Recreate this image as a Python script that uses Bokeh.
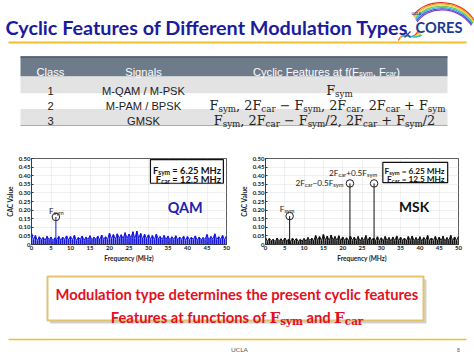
import os
import re
import glob
from bokeh.plotting import figure
from bokeh.layouts import column, row
from bokeh.models import Range1d, FixedTicker
from bokeh.core.properties import value
from bokeh.embed import file_html
from bokeh.resources import INLINE

try:
    from PIL import ImageFont
except Exception:
    ImageFont = None

# ---------------------------------------------------------------- data
TITLE = "Cyclic Features of Different Modulation Types"
LOGO_TEXT = "CORES"
LOGO_SMALL = "UCLA"
TABLE_HEADER = ["Class", "Signals", "Cyclic Features at f(F_{sym}, F_{car})"]
CLASS_IDS = ["1", "2", "3"]
SIGNALS = ["M-QAM / M-PSK", "M-PAM / BPSK", "GMSK"]
FEATURES = [
    "F_{sym}",
    "F_{sym}, 2F_{car} \u2212 F_{sym}, 2F_{car}, 2F_{car} + F_{sym}",
    "F_{sym}, 2F_{car} \u2212 F_{sym}/2, 2F_{car} + F_{sym}/2",
]

X_TICKS = [0, 5, 10, 15, 20, 25, 30, 35, 40, 45, 50]
Y_TICKS = [0, 0.05, 0.1, 0.15, 0.2, 0.25, 0.3, 0.35, 0.4, 0.45, 0.5]
Y_TICK_LABELS = ["0", "0.05", "0.10", "0.15", "0.20", "0.25", "0.30",
                 "0.35", "0.40", "0.45", "0.50"]
X_LABEL = "Frequency (MHz)"
Y_LABEL = "CAC Value"

FREQ_MHZ = [i * 0.5 for i in range(101)]
QAM_CAC = [
    0.065, 0.028, 0.052, 0.022, 0.045, 0.030, 0.041, 0.025, 0.048, 0.027,
    0.044, 0.021, 0.039, 0.029, 0.047, 0.024, 0.043, 0.030, 0.050, 0.026,
    0.046, 0.028, 0.053, 0.023, 0.041, 0.031, 0.049, 0.025, 0.044, 0.029,
    0.051, 0.027, 0.042, 0.032, 0.048, 0.026, 0.055, 0.030, 0.045, 0.028,
    0.066, 0.034, 0.058, 0.031, 0.062, 0.036, 0.057, 0.033, 0.069, 0.035,
    0.061, 0.038, 0.074, 0.034, 0.078, 0.037, 0.064, 0.032, 0.059, 0.035,
    0.056, 0.031, 0.052, 0.029, 0.060, 0.033, 0.047, 0.028, 0.053, 0.030,
    0.049, 0.027, 0.045, 0.031, 0.051, 0.026, 0.043, 0.029, 0.048, 0.025,
    0.046, 0.028, 0.042, 0.030, 0.050, 0.024, 0.044, 0.027, 0.041, 0.029,
    0.058, 0.026, 0.047, 0.031, 0.062, 0.028, 0.045, 0.030, 0.052, 0.027,
    0.049,
]
MSK_CAC = [
    0.040, 0.018, 0.035, 0.022, 0.030, 0.016, 0.037, 0.021, 0.033, 0.019,
    0.038, 0.020, 0.031, 0.017, 0.036, 0.022, 0.034, 0.018, 0.029, 0.021,
    0.035, 0.019, 0.041, 0.023, 0.037, 0.020, 0.052, 0.024, 0.046, 0.022,
    0.058, 0.025, 0.049, 0.021, 0.055, 0.026, 0.047, 0.023, 0.051, 0.020,
    0.044, 0.024, 0.039, 0.021, 0.048, 0.025, 0.042, 0.022, 0.046, 0.019,
    0.040, 0.023, 0.052, 0.020, 0.043, 0.024, 0.038, 0.021, 0.045, 0.022,
    0.039, 0.020, 0.047, 0.023, 0.041, 0.019, 0.044, 0.022, 0.050, 0.021,
    0.042, 0.024, 0.037, 0.020, 0.046, 0.023, 0.049, 0.021, 0.040, 0.022,
    0.045, 0.019, 0.041, 0.024, 0.052, 0.021, 0.038, 0.023, 0.047, 0.020,
    0.043, 0.022, 0.048, 0.019, 0.040, 0.024, 0.053, 0.021, 0.044, 0.023,
    0.046,
]
QAM_PEAK_MHZ = [6.25]
QAM_PEAK_CAC = [0.16]
QAM_PEAK_LABELS = ["F_{sym}"]
MSK_PEAK_MHZ = [6.25, 21.875, 28.125]
MSK_PEAK_CAC = [0.165, 0.355, 0.355]
MSK_PEAK_LABELS = ["F_{sym}", "2F_{car}\u22120.5F_{sym}", "2F_{car}+0.5F_{sym}"]
PARAM_LINES = ["F_{sym} = 6.25 MHz", "F_{car} = 12.5 MHz"]
CHART_NAMES = ["QAM", "MSK"]
TAKEAWAYS = ["Modulation type determines the present cyclic features",
             "Features at functions of F_{sym} and F_{car}"]
FOOTER = "UCLA"
PAGE_NO = "8"

# ---------------------------------------------------------------- text measuring
_paths = {}
for root in ["/usr/share/fonts", "/usr/local/share/fonts",
             os.path.expanduser("~/.fonts"), os.path.expanduser("~/.local/share/fonts")]:
    for pth in glob.glob(os.path.join(root, "**", "*.*tf"), recursive=True):
        stem = os.path.splitext(os.path.basename(pth))[0].lower()
        stem = stem.replace("-", "").replace("_", "").replace(" ", "")
        _paths.setdefault(stem, pth)
_cache = {}


def _font(fam, bold):
    key = (fam, bold)
    if key not in _cache:
        f = None
        base = fam.replace(" ", "").lower()
        sufs = ["bold", "bd"] if bold else ["regular", "", "reg", "roman", "book"]
        if ImageFont is not None:
            for suf in sufs:
                if base + suf in _paths:
                    try:
                        f = ImageFont.truetype(_paths[base + suf], 100)
                        break
                    except Exception:
                        f = None
        _cache[key] = f
    return _cache[key]


def text_width(t, size, fam, bold):
    f = _font(fam, bold)
    if f is None:
        return (0.6 if bold else 0.56) * size * len(t)
    return f.getlength(t) * size / 100.0


def parse(s, math=False):
    parts = re.split(r"_\{([^}]*)\}", s)
    segs = []
    for i, part in enumerate(parts):
        if i % 2 == 1:
            segs.append((part, "s"))
        elif part:
            if math and i + 1 < len(parts):
                if part[:-1]:
                    segs.append((part[:-1], "n"))
                segs.append((part[-1], "m"))
            else:
                segs.append((part, "n"))
    return segs


def rich_items(s, size, fonts, math=False, sub_scale=0.7):
    items = []
    for t, k in parse(s, math):
        fam, bold = fonts.get(k, fonts["n"])
        fs = size * sub_scale if k == "s" else size
        items.append((t, k, fam, bold, fs, text_width(t, fs, fam, bold)))
    return items


def fit(s, fonts, target_px, math=False, sub_scale=0.7):
    w = sum(i[5] for i in rich_items(s, 1.0, fonts, math, sub_scale))
    return target_px / w if w > 0 else 10


def draw_rich(p, x, y, s, size, fonts, color, align="center", math=False,
              sub_scale=0.7, sub_drop=0.22):
    items = rich_items(s, size, fonts, math, sub_scale)
    total = sum(i[5] for i in items)
    off = {"left": 0.0, "center": -total / 2.0, "right": -total}[align]
    for t, k, fam, bold, fs, w in items:
        lead = len(t) - len(t.lstrip(" "))
        pre = text_width(t[:lead], fs, fam, bold)
        shown = t.strip(" ")
        if shown:
            p.text(x=[x], y=[y], text=[shown], x_offset=off + pre,
                   y_offset=(size * sub_drop if k == "s" else 0),
                   text_font=value(fam), text_font_style="bold" if bold else "normal",
                   text_font_size=value("%.2fpx" % fs), text_color=color,
                   text_align="left", text_baseline="alphabetic")
        off += w


def blank_fig(h, yr):
    p = figure(width=474, height=h, x_range=Range1d(0, 474), y_range=Range1d(*yr),
               x_axis_type=None, y_axis_type=None, toolbar_location=None,
               output_backend="svg", min_border=0, outline_line_color=None,
               background_fill_color="white", border_fill_color="white")
    p.grid.visible = False
    return p


# ---------------------------------------------------------------- header + table
TITLE_BLUE = "#1b1b9e"
hdr = blank_fig(150, (150, 0))

LATO_B = {"n": ("Lato", True)}
LATO_R = {"n": ("Lato", False)}
TABLE_SANS = {"n": ("Liberation Sans", False)}
ts = fit(TITLE, LATO_B, 402)
draw_rich(hdr, 5, 26, TITLE, ts, LATO_B, TITLE_BLUE, align="left")

# logo swirl
arc_cols = ["#e8302a", "#f39a1e", "#f2dc35", "#5cc84a", "#27b7e0", "#3a4fd0", "#8a3ccf"]
n = len(arc_cols)
hdr.bezier(x0=[413 + i * 0.6 for i in range(n)], y0=[15 + i * 1.1 for i in range(n)],
           x1=[474 - i * 0.5 for i in range(n)], y1=[20 + i * 0.8 for i in range(n)],
           cx0=[424 + i * 0.5 for i in range(n)], cy0=[-2 + i * 1.3 for i in range(n)],
           cx1=[458 - i * 0.5 for i in range(n)], cy1=[-4 + i * 1.3 for i in range(n)],
           line_color=arc_cols, line_width=1.1)
hdr.bezier(x0=[398 + i * 0.8 for i in range(5)], y0=[40 - i * 1.0 for i in range(5)],
           x1=[418 + i * 0.8 for i in range(5)], y1=[30 + i * 1.2 for i in range(5)],
           cx0=[402 + i for i in range(5)], cy0=[28 + i for i in range(5)],
           cx1=[410 + i for i in range(5)], cy1=[44 - i for i in range(5)],
           line_color=arc_cols[:5], line_width=1.1)
hdr.segment(x0=[404, 404], y0=[31, 37], x1=[410, 410], y1=[37, 31],
            line_color="#2a3fb8", line_width=1.3)
ls = fit(LOGO_TEXT, LATO_B, 47)
draw_rich(hdr, 415, 26.5, LOGO_TEXT, ls, LATO_B, "#1b3a94", align="left")
draw_rich(hdr, 411, 12.5, LOGO_SMALL, 3.6, LATO_B, "#1b3a94", align="left")

hdr.segment(x0=[8], y0=[42], x1=[466], y1=[42], line_color="#f0be2e", line_width=2.2)

# table bands
band_top = [56, 76, 93, 108.5]
band_bot = [76, 93, 108.5, 125]
band_col = ["#6d7b8b", "#e3e3e3", "#ffffff", "#e3e3e3"]
hdr.quad(left=[20] * 4, right=[447] * 4, top=band_top, bottom=band_bot,
         fill_color=band_col, line_color=None)
hdr.segment(x0=[20], y0=[56.5], x1=[447], y1=[56.5], line_color="#4f5a66", line_width=1.6)
hdr.segment(x0=[20], y0=[125], x1=[447], y1=[125], line_color="#9a9a9a", line_width=0.8)

SERIF = {"n": ("DejaVu Serif", False)}
tsz = min(fit(SIGNALS[0], TABLE_SANS, 83), 12.5)
col_cx = [50, 143, 326]
for cx, h in zip(col_cx, TABLE_HEADER):
    draw_rich(hdr, cx, 71, h, tsz, TABLE_SANS, "white", sub_scale=0.68)
row_base = [90, 105, 120]
feat_cx = [339, 327, 324]
fsz = fit(FEATURES[1], SERIF, 236, sub_scale=0.68)
for yb, c, sgl, fx, ft in zip(row_base, CLASS_IDS, SIGNALS, feat_cx, FEATURES):
    draw_rich(hdr, col_cx[0], yb, c, tsz, TABLE_SANS, "#222222")
    draw_rich(hdr, col_cx[1], yb, sgl, tsz, TABLE_SANS, "#222222")
    draw_rich(hdr, fx, yb, ft, fsz, SERIF, "#222222", sub_scale=0.68, sub_drop=0.25)


# ---------------------------------------------------------------- charts
def make_chart(cac, color, pk_f, pk_v, pk_lab, lab_pos, name, name_col, name_pos,
               name_w, box, box_txt_x, box_txt_y, box_w, mb):
    p = figure(width=237, height=118, x_range=Range1d(0, 50), y_range=Range1d(0, 0.5),
               toolbar_location=None, output_backend="svg",
               min_border_left=mb[0], min_border_right=mb[1],
               min_border_top=mb[2], min_border_bottom=mb[3],
               background_fill_color="white", border_fill_color="white")
    p.outline_line_color = "#333333"
    p.outline_line_width = 0.8
    p.xaxis.ticker = FixedTicker(ticks=X_TICKS)
    p.yaxis.ticker = FixedTicker(ticks=Y_TICKS)
    p.yaxis.major_label_overrides = {t: l for t, l in zip(Y_TICKS, Y_TICK_LABELS)}
    p.xaxis.axis_label = X_LABEL
    p.yaxis.axis_label = Y_LABEL
    for ax in (p.xaxis[0], p.yaxis[0]):
        ax.major_label_text_font = "Lato"
        ax.major_label_text_font_style = "bold"
        ax.major_label_text_font_size = "6px"
        ax.major_label_text_color = "#222222"
        ax.major_label_standoff = 1
        ax.axis_label_text_font = "Lato"
        ax.axis_label_text_font_style = "bold"
        ax.axis_label_text_font_size = "6.5px"
        ax.axis_label_text_color = "#222222"
        ax.axis_label_standoff = 2
        ax.axis_line_color = "#333333"
        ax.axis_line_width = 0.8
        ax.major_tick_in = 2
        ax.major_tick_out = 0
        ax.major_tick_line_color = "#333333"
        ax.minor_tick_line_color = None
    p.xgrid.ticker = FixedTicker(ticks=X_TICKS)
    p.ygrid.ticker = FixedTicker(ticks=Y_TICKS)
    p.grid.grid_line_color = "#e6e6e6"
    p.grid.grid_line_width = 0.6

    p.segment(x0=FREQ_MHZ, y0=0, x1=FREQ_MHZ, y1=cac, line_color=color, line_width=1.6)
    p.line(FREQ_MHZ, cac, line_color=color, line_width=1.0)
    p.segment(x0=pk_f, y0=0, x1=pk_f, y1=pk_v, line_color=color, line_width=1.0)
    p.scatter(pk_f, pk_v, marker="circle", size=7.5, fill_color=None,
              line_color="#222222", line_width=1.0)

    lsz = fit(MSK_PEAK_LABELS[2], LATO_R, 48, sub_scale=0.7)
    for lab, (lx, ly, al) in zip(pk_lab, lab_pos):
        draw_rich(p, lx, ly, lab, lsz, LATO_R, "#222222", align=al)

    p.quad(left=[box[0]], right=[box[1]], bottom=[box[2]], top=[box[3]],
           fill_color="white", line_color="#111111", line_width=1.2)
    bsz = fit(PARAM_LINES[0], LATO_B, box_w)
    for txt, by in zip(PARAM_LINES, box_txt_y):
        draw_rich(p, box_txt_x, by, txt, bsz, LATO_B, "#111111", align="right")

    nsz = fit(name, LATO_B, name_w)
    draw_rich(p, name_pos[0], name_pos[1], name, nsz, LATO_B, name_col)
    return p


left = make_chart(QAM_CAC, "#1515e0", QAM_PEAK_MHZ, QAM_PEAK_CAC, QAM_PEAK_LABELS,
                  [(6.4, 0.196, "center")], CHART_NAMES[0], "#1e22b0", (39.4, 0.218), 35,
                  (30.5, 49.2, 0.356, 0.494), 48.6, (0.432, 0.38), 68, (31, 11, 7, 24))
right = make_chart(MSK_CAC, "#111111", MSK_PEAK_MHZ, MSK_PEAK_CAC, MSK_PEAK_LABELS,
                   [(5.6, 0.209, "center"), (20.2, 0.359, "right"), (22.7, 0.417, "center")],
                   CHART_NAMES[1], "#111111", (38.5, 0.221), 30,
                   (30.4, 47.2, 0.36, 0.477), 46.4, (0.43, 0.381), 60, (25, 16, 8, 24))

# ---------------------------------------------------------------- takeaway + footer
bot = blank_fig(86, (354, 268))
bot.quad(left=[49.5], right=[426], top=[279], bottom=[323], fill_color="#000000",
         fill_alpha=0.18, line_color=None)
bot.quad(left=[47], right=[423], top=[276], bottom=[320], fill_color="white",
         line_color="#e3c36c", line_width=2)
RED = "#e3101e"
rf = {"n": ("Lato", True), "m": ("DejaVu Serif", True), "s": ("DejaVu Serif", True)}
rsz = fit(TAKEAWAYS[0], rf, 363)
draw_rich(bot, 236.5, 293.5, TAKEAWAYS[0], rsz, rf, RED)
draw_rich(bot, 236.5, 316.5, TAKEAWAYS[1], rsz, rf, RED, math=True, sub_scale=0.7,
          sub_drop=0.25)
bot.segment(x0=[8], y0=[339], x1=[466], y1=[339], line_color="#f0be2e", line_width=1.6)
draw_rich(bot, 239, 349, FOOTER, 6.5, LATO_R, "#555555")
draw_rich(bot, 458, 349, PAGE_NO, 5.0, LATO_R, "#555555")

layout = column(hdr, row(left, right), bot)
open("out.html", "w").write(file_html(layout, INLINE))
